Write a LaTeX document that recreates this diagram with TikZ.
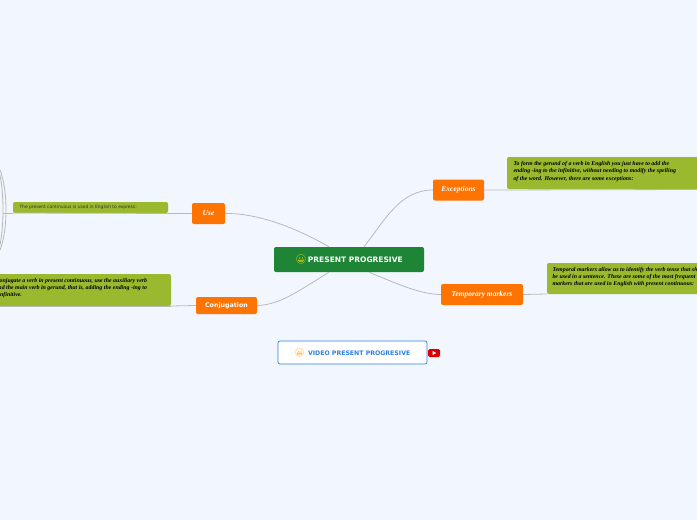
\documentclass[tikz,border=0pt]{standalone}
\usepackage{fontspec}
\setmainfont{DejaVu Sans}
\newfontfamily\emj{Noto Emoji}
\newfontfamily\fancy{Liberation Serif}
\begin{document}
\begin{tikzpicture}[x=1pt,y=-1pt,
  conn/.style={draw=gray!55,line width=0.8pt},
  branch/.style={fill=orange!90!red,text=white,rounded corners=2pt,font=\fancy\bfseries\itshape\fontsize{7.5}{8}\selectfont,inner sep=0pt,minimum height=21pt},
  ftxt/.style={font=\fancy\bfseries\itshape\fontsize{5.9}{7.2}\selectfont,align=left}]
\definecolor{olivenote}{HTML}{9AB92E}
\definecolor{bg}{HTML}{F2F6FE}
\definecolor{cgreen}{HTML}{1E8436}
\definecolor{vblue}{HTML}{2F7FE0}
\useasboundingbox (0,0) rectangle (697,520);
\fill[bg] (0,0) rectangle (697,520);
\begin{scope}
\clip (0,0) rectangle (697,520);
\draw[conn] (0,170) .. controls (8,190) and (8,230) .. (0,250);
\draw[conn] (0,175) .. controls (4,195) and (4,225) .. (0,245);
\fill[olivenote,rounded corners=2pt] (507,157) rectangle (720,189);
\node[ftxt,anchor=north west] (exn) at (510,158) {To form the gerund of a verb in English you just have to add the\\ ending -ing to the infinitive, without needing to modify the spelling\\ of the word. However, there are some exceptions:};
\fill[olivenote,rounded corners=2pt] (547,263) rectangle (760,294);
\node[ftxt,anchor=north west] (tmn) at (549,263.5) {Temporal markers allow us to identify the verb tense that should\\ be used in a sentence. These are some of the most frequent\\ markers that are used in English with present continuous:};
\fill[olivenote,rounded corners=2pt] (-50,274) rectangle (171,306);
\node[ftxt,anchor=north west] (cjn) at (-14,274.5) {To conjugate a verb in present continuous, use the auxiliary verb\\ \hspace*{6pt}and the main verb in gerund, that is, adding the ending -ing to\\ \hspace*{9pt}infinitive.};
\fill[olivenote,rounded corners=2pt] (13,202) rectangle (168,213);
\node[anchor=west,font=\fontsize{4.4}{5}\selectfont,text=black!80] (usn) at (16,207.5) {The present continuous is used in English to express:};
\coordinate (exR) at (697,189.5);
\coordinate (tmL) at (547,294);
\coordinate (usL) at (13,213);
\coordinate (usLL) at (3,213);
\coordinate (cjR) at (171,306);
\coordinate (cjL) at (0,306);
\end{scope}
\node[fill=cgreen,text=white,rounded corners=2pt,minimum width=150pt,minimum height=25pt,inner sep=0pt,font=\bfseries\fontsize{7.5}{8}\selectfont] (c) at (349,259.5) {{\emj\fontsize{9}{9}\selectfont\textcolor{yellow!80!orange}{😀}}\,PRESENT PROGRESIVE};
\node[branch,minimum width=51pt] (ex) at (458.5,190) {Exceptions};
\node[branch,minimum width=82pt] (tm) at (482,294.5) {Temporary markers};
\node[branch,minimum width=33pt] (us) at (208.5,213.5) {Use};
\node[branch,minimum width=61pt,minimum height=17pt,font=\bfseries\fontsize{6.3}{7}\selectfont] (cj) at (226.5,305.5) {Conjugation};
\draw[conn] (c.north) ++(15,0) .. controls (385,220) and (400,190) .. (ex.west);
\draw[conn] (c.south) ++(20,0) .. controls (400,285) and (420,294) .. (tm.west);
\draw[conn] (c.north) ++(-20,0) .. controls (300,230) and (260,213) .. (us.east);
\draw[conn] (c.south) ++(-20,0) .. controls (300,290) and (280,305) .. (cj.east);
\draw[conn] (ex.east) -- (exR);
\draw[conn] (tm.east) -- (tmL);
\draw[conn] (us.west) -- (usL);
\draw[conn] (usL) -- (usLL);
\draw[conn] (cj.west) -- (cjR);
\draw[conn] (cjR) -- (cjL);
\node[draw=vblue,fill=white,rounded corners=2pt,line width=0.7pt,minimum width=149pt,minimum height=23pt,inner sep=0pt,text=vblue,font=\bfseries\fontsize{6.2}{7}\selectfont] (v) at (352.5,352.5) {{\emj\fontsize{8}{8}\selectfont\textcolor{orange!80!yellow}{😬}}\, VIDEO PRESENT PROGRESIVE};
\node[fill=red!85!black,rounded corners=1.5pt,minimum width=12pt,minimum height=8pt,inner sep=0pt,anchor=west] (yt) at (428,353) {};
\fill[white] ([xshift=-1.5pt,yshift=-2pt]yt.center) -- ([xshift=-1.5pt,yshift=2pt]yt.center) -- ([xshift=2pt]yt.center) -- cycle;
\end{tikzpicture}
\end{document}
